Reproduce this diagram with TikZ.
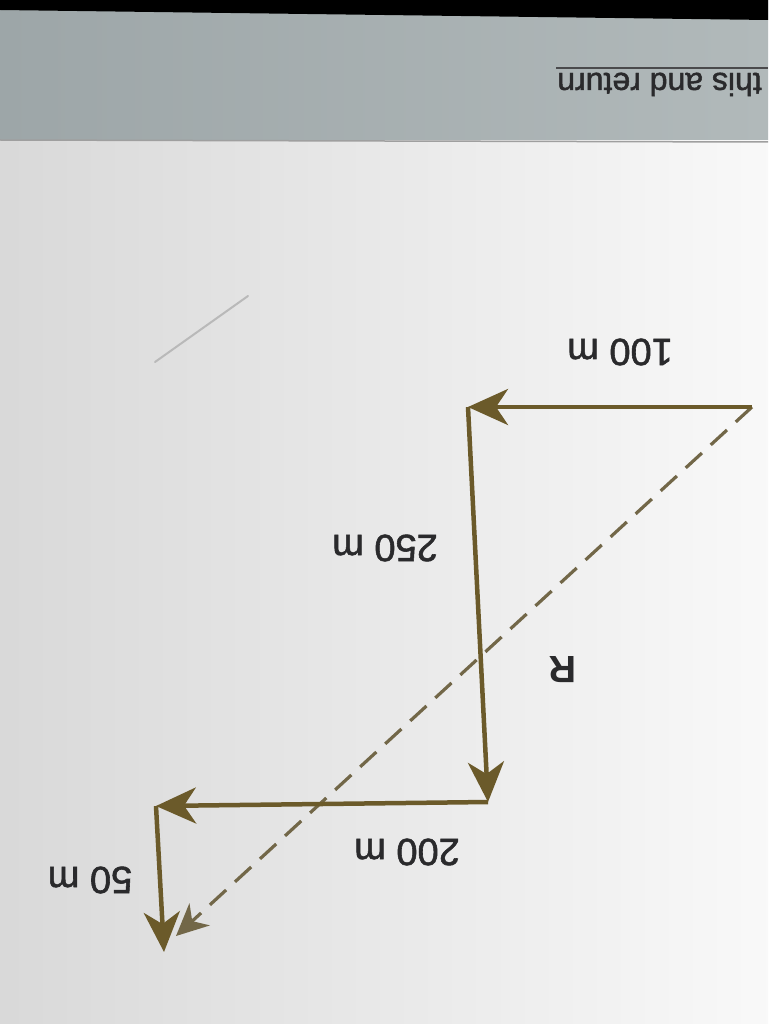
\documentclass[tikz,border=0pt]{standalone}
\usepackage{fontspec}
\setmainfont{Liberation Sans}
\newfontfamily\labfont[BoldFont={Liberation Sans}, BoldFeatures={FakeBold=1.5}]{Liberation Sans}
\usetikzlibrary{arrows.meta}
\definecolor{vec}{HTML}{6B5A2A}
\definecolor{txt}{HTML}{2A2A2C}
\definecolor{panelL}{HTML}{9DA6A8}
\definecolor{panelR}{HTML}{B1B9BA}
\begin{document}
\begin{tikzpicture}[x=1pt,y=-1pt,
  vecline/.style={line width=4.5pt, draw=vec, -{Stealth[length=40pt,width=36pt,inset=12pt]}},
  resline/.style={line width=3.2pt, draw=vec!65!gray, dash pattern=on 22pt off 12pt, -{Stealth[length=32pt,width=30pt,inset=10pt]}},
  lab/.style={font=\labfont\bfseries\fontsize{38}{40}\selectfont, text=txt, rotate=180, inner sep=0pt}]
\useasboundingbox (0,0) rectangle (768,1024);
% page background
\shade[left color=gray!30!white, right color=gray!5!white] (0,0) rectangle (768,1024);
% top gray panel
\shade[left color=panelL, right color=panelR] (0,0) rectangle (768,140);
\draw[line width=1.5pt, gray!75] (0,140) -- (768,142);
% black bar
\fill[black] (0,0) -- (768,0) -- (768,20) -- (0,10) -- cycle;
% top text
\node[lab, font=\labfont\bfseries\fontsize{32}{34}\selectfont, anchor=base west] (hdr) at (762,73) {this and return};
\draw[line width=1.5pt, txt!85] (556,68) -- (768,68);
% pencil smudge
\draw[gray!55, line width=2pt, line cap=round] (155,362) -- (248,296);
% vector points
\coordinate (A) at (752,407);
\coordinate (B) at (468,407);
\coordinate (C) at (488,802);
\coordinate (D) at (156,806);
\coordinate (E) at (164,952);
\coordinate (F) at (176,936);
% vectors
\draw[resline] (A) -- (F);
\draw[vecline] (A) -- (B);
\draw[vecline] (B) -- (C);
\draw[vecline] (C) -- (D);
\draw[vecline] (D) -- (E);
% labels
\node[lab] (l100) at (620,352) {100 m};
\node[lab] (l250) at (385,548) {250 m};
\node[lab, font=\fontsize{38}{40}\selectfont\bfseries] (lR) at (563,670) {R};
\node[lab] (l200) at (407,852) {200 m};
\node[lab] (l50) at (90,880) {50 m};
\end{tikzpicture}
\end{document}
